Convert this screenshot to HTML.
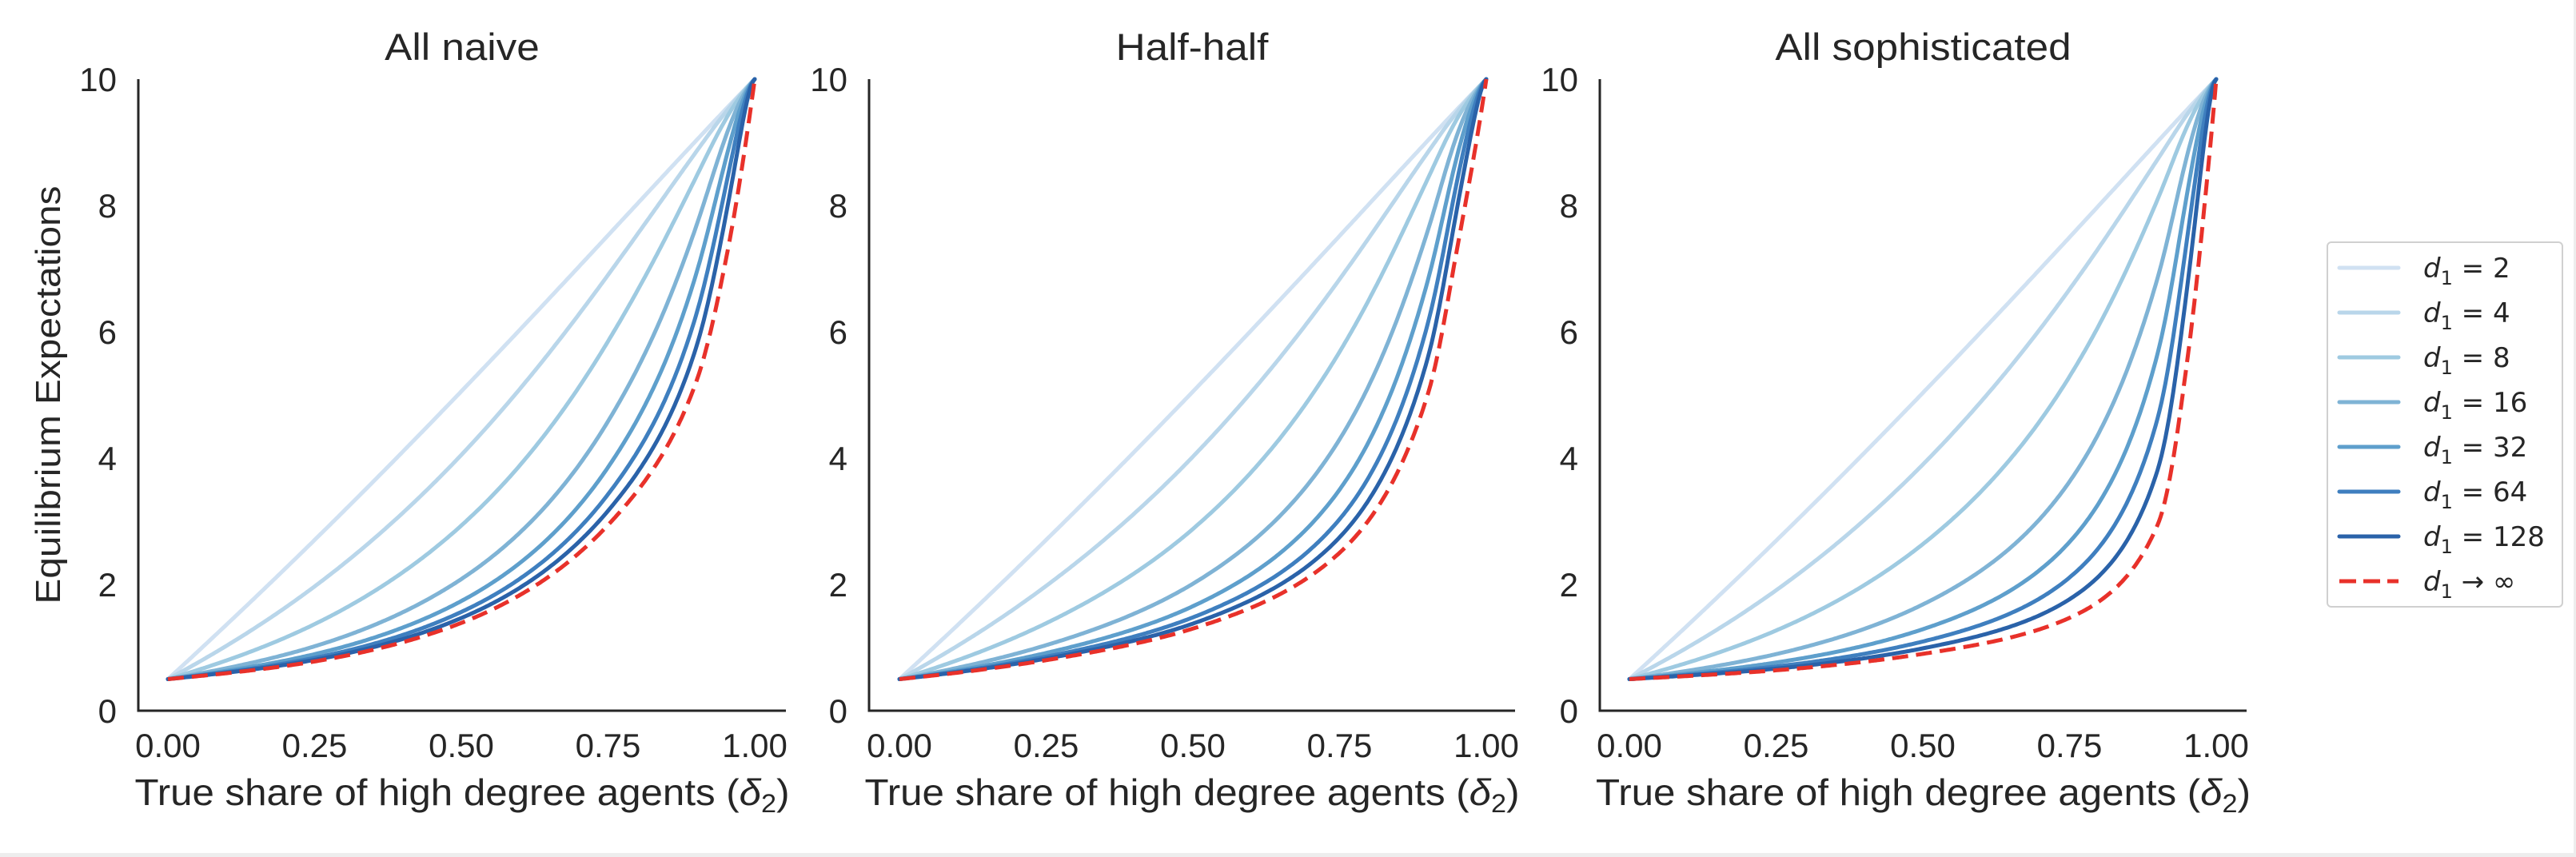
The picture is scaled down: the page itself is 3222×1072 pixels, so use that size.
<!DOCTYPE html>
<html><head><meta charset="utf-8"><style>
html,body{margin:0;padding:0;background:#fff}
svg{display:block}
text{font-family:"Liberation Sans",sans-serif;fill:#262626}
.dj{font-family:"DejaVu Sans",sans-serif}
</style></head><body>
<svg id="s" width="3222" height="1072" xmlns="http://www.w3.org/2000/svg">
<rect x="0" y="1067" width="3222" height="5" fill="#ededed"/>
<rect x="3219" y="0" width="3" height="1072" fill="#ededed"/>
<g id="plots"></g>
<text x="60" y="494" font-size="44" text-anchor="middle" transform="rotate(-90 60 494)" dy="15" textLength="523" lengthAdjust="spacingAndGlyphs">Equilibrium Expectations</text>
<rect x="2911" y="303" width="294" height="456" rx="5" fill="#fff" stroke="#d0d0d0" stroke-width="2"/>
<g id="leg"></g>
</svg>
<script>
const NS="http://www.w3.org/2000/svg";
const cols=["#d0e1f2","#b9d6ea","#9ecae1","#7fb3d5","#5e9fcc","#3f7fbf","#2a62a9"];
const cs=[7.7,0.9,0.27,0.089,0.040,0.0191,0.0083];
const A=1.3;
const panels=[
 {ax:173,x0:210,end:983,t:"All naive",kx:[0,0.25,0.5,0.75,0.9,0.95,1],ky:[0.5,0.78,1.39,2.94,5.2,7.1,10]},
 {ax:1087,x0:1125,end:1895,t:"Half-half",kx:[0,0.25,0.5,0.75,0.9,0.95,1],ky:[0.5,0.8,1.3,2.5,5.0,7.3,10]},
 {ax:2001,x0:2038,end:2810,t:"All sophisticated",cm:1.0,kx:[0,0.25,0.5,0.75,0.9,0.95,0.98,1],ky:[0.5,0.64,0.9,1.47,2.94,5.5,8.0,10]}];
function pchip(xs,ys){const n=xs.length,h=[],d=[],m=new Array(n);
 for(let i=0;i<n-1;i++){h[i]=xs[i+1]-xs[i];d[i]=(ys[i+1]-ys[i])/h[i];}
 m[0]=d[0];m[n-1]=d[n-2];
 for(let i=1;i<n-1;i++){if(d[i-1]*d[i]<=0)m[i]=0;else{const w1=2*h[i]+h[i-1],w2=h[i]+2*h[i-1];m[i]=(w1+w2)/(w1/d[i-1]+w2/d[i]);}}
 return x=>{let i=0;while(i<n-2&&x>xs[i+1])i++;const t=(x-xs[i])/h[i],t2=t*t,t3=t2*t;
  return (2*t3-3*t2+1)*ys[i]+(t3-2*t2+t)*h[i]*m[i]+(-2*t3+3*t2)*ys[i+1]+(t3-t2)*h[i]*m[i+1];};}
const g=document.getElementById("plots");
function el(n,a,txt){const e=document.createElementNS(NS,n);for(const k in a)e.setAttribute(k,a[k]);if(txt!==undefined)e.textContent=txt;return e;}
panels.forEach(P=>{
  const W=734,Y0=889,U=79;
  const f=pchip(P.kx,P.ky.map(Math.log));
  const lim=x=>Math.exp(f(x));
  const lin=x=>0.5+9.5*x;
  const px=x=>P.x0+x*W, py=y=>Y0-y*U;
  g.appendChild(el("line",{x1:P.ax,y1:99,x2:P.ax,y2:Y0+1.5,stroke:"#262626","stroke-width":3}));
  g.appendChild(el("line",{x1:P.ax-1.5,y1:Y0,x2:P.end,y2:Y0,stroke:"#262626","stroke-width":3}));
  for(let v=0;v<=10;v+=2){g.appendChild(el("text",{x:P.ax-27,y:py(v)+15,"font-size":42,"text-anchor":"end"},String(v)));}
  ["0.00","0.25","0.50","0.75","1.00"].forEach((s,i)=>g.appendChild(el("text",{x:px(i*0.25),y:947,"font-size":42,"text-anchor":"middle"},s)));
  const xl=el("text",{x:(P.ax+P.end)/2,y:1007,"font-size":46,"text-anchor":"middle",textLength:819,lengthAdjust:"spacingAndGlyphs"});
  xl.innerHTML='True share of high degree agents (<tspan font-style="italic">δ</tspan><tspan font-size="32" dy="9">2</tspan><tspan dy="-9">)</tspan>';
  g.appendChild(xl);
  const tt=el("text",{x:(P.ax+P.end)/2,y:75,"font-size":47,"text-anchor":"middle"},P.t);
  g.appendChild(tt);
  try{const L=tt.getComputedTextLength();tt.setAttribute("textLength",(L*1.09).toFixed(1));tt.setAttribute("lengthAdjust","spacingAndGlyphs");}catch(e){}
  cs.forEach((c0,k)=>{
    const c=c0*(P.cm||1);let d="";
    for(let i=0;i<=300;i++){const x=i/300;const w=c/(c+Math.pow(1-x,A));const y=lim(x)+(lin(x)-lim(x))*w;d+=(i?"L":"M")+px(x).toFixed(1)+" "+py(y).toFixed(1);}
    g.appendChild(el("path",{d:d,fill:"none",stroke:cols[k],"stroke-width":5,"stroke-linecap":"round"}));
  });
  let d="";for(let i=0;i<=400;i++){const x=i/400;d+=(i?"L":"M")+px(x).toFixed(1)+" "+py(lim(x)).toFixed(1);}
  g.appendChild(el("path",{d:d,fill:"none",stroke:"#e8312a","stroke-width":5,"stroke-dasharray":"20 10"}));
});
const L=document.getElementById("leg");
const labs=["= 2","= 4","= 8","= 16","= 32","= 64","= 128","→ ∞"];
labs.forEach((s,i)=>{
  const y=335+i*56;
  if(i<7)L.appendChild(el("line",{x1:2926,y1:y,x2:3000,y2:y,stroke:cols[i],"stroke-width":5,"stroke-linecap":"round"}));
  else L.appendChild(el("line",{x1:2926,y1:y,x2:3000,y2:y,stroke:"#e8312a","stroke-width":5,"stroke-dasharray":"21 9"}));
  const t=el("text",{x:3031,y:y+12,"font-size":34,class:"dj"});
  t.innerHTML='<tspan font-style="italic">d</tspan><tspan font-size="24" dy="9">1</tspan><tspan dy="-9"> '+s+'</tspan>';
  L.appendChild(t);
});
</script>
</body></html>
